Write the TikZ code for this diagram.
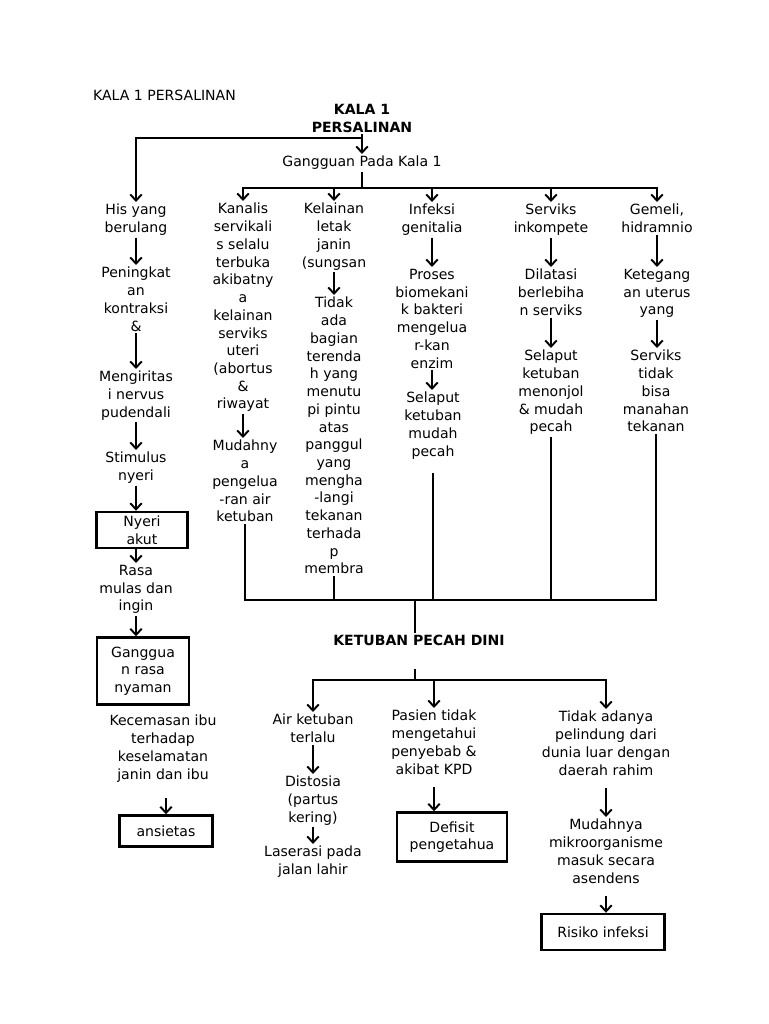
\documentclass[tikz,border=0pt]{standalone}
\usepackage{fontspec}
\setmainfont{DejaVu Sans}
\usetikzlibrary{arrows.meta,positioning,calc}

\begin{document}
\begin{tikzpicture}[
    x=0.02cm, y=-0.02cm,
    txt/.style={align=center, inner sep=1pt, font=\fontsize{8}{10.1}\selectfont},
    col/.style={txt, anchor=north},
    diag/.style={txt, draw, line width=1.4pt},
    arrow/.style={line width=0.8pt, -{Straight Barb[length=3.5pt, width=6.5pt, line width=1.1pt]}},
    link/.style={line width=0.8pt}
]

% Page
\useasboundingbox (0,0) rectangle (768,1024);
\fill[white] (0,0) rectangle (768,1024);

% Titles
\node[txt, anchor=west] (judul) at (91,95) {KALA 1 PERSALINAN};
\node[col] (kala) at (362,102) {\textbf{KALA 1}\\ \textbf{PERSALINAN}};
\node[col] (gangguan) at (362,154) {Gangguan Pada Kala 1};

% Column 1
\node[col] (his) at (136,202) {His yang\\ berulang};
\node[col] (ningkat) at (136,265) {Peningkat\\ an\\ kontraksi\\ \&};
\node[col] (iritasi) at (136,369) {Mengiritas\\ i nervus\\ pudendali};
\node[col] (stimulus) at (136,450) {Stimulus\\ nyeri};
\node[diag, minimum width=1.82cm, minimum height=0.72cm] (nyeri) at (142,530) {Nyeri\\ akut};
\node[col] (rasa) at (136,563) {Rasa\\ mulas dan\\ ingin};
\node[diag, minimum width=1.84cm, minimum height=1.34cm] (nyaman) at (143,671) {Ganggua\\ n rasa\\ nyaman};
\node[col] (cemas) at (163,713) {Kecemasan ibu\\ terhadap\\ keselamatan\\ janin dan ibu};
\node[diag, minimum width=1.86cm, minimum height=0.62cm] (ansietas) at (166,831) {ansietas};

% Column 2
\node[col] (kanalis) at (243,201) {Kanalis\\ servikali\\ s selalu\\ terbuka\\ akibatny\\ a\\ kelainan\\ serviks\\ uteri\\ (abortus\\ \&\\ riwayat};
\node[col] (mudah) at (245,438) {Mudahny\\ a\\ pengelua\\ -ran air\\ ketuban};

% Column 3
\node[col] (letak) at (334,201) {Kelainan\\ letak\\ janin\\ (sungsan};
\node[col] (tidak) at (334,295) {Tidak\\ ada\\ bagian\\ terenda\\ h yang\\ menutu\\ pi pintu\\ atas\\ panggul\\ yang\\ mengha\\ -langi\\ tekanan\\ terhada\\ p\\ membra};

% Column 4
\node[col] (infeksi) at (432,202) {Infeksi\\ genitalia};
\node[col] (proses) at (432,267) {Proses\\ biomekani\\ k bakteri\\ mengelua\\ r-kan\\ enzim};
\node[col] (selaputa) at (433,390) {Selaput\\ ketuban\\ mudah\\ pecah};

% Column 5
\node[col] (serviks) at (551,202) {Serviks\\ inkompete};
\node[col] (dilatasi) at (551,267) {Dilatasi\\ berlebiha\\ n serviks};
\node[col] (selaputb) at (551,348) {Selaput\\ ketuban\\ menonjol\\ \& mudah\\ pecah};

% Column 6
\node[col] (gemeli) at (657,202) {Gemeli,\\ hidramnio};
\node[col] (tegang) at (657,267) {Ketegang\\ an uterus\\ yang};
\node[col] (servikstidak) at (656,348) {Serviks\\ tidak\\ bisa\\ manahan\\ tekanan};

% KPD
\node[txt] (kpd) at (419,640) {\textbf{KETUBAN PECAH DINI}};

% Lower branches
\node[col] (air) at (313,712) {Air ketuban\\ terlalu};
\node[col] (distosia) at (313,774) {Distosia\\ (partus\\ kering)};
\node[col] (laserasi) at (313,844) {Laserasi pada\\ jalan lahir};
\node[col] (pasien) at (434,708) {Pasien tidak\\ mengetahui\\ penyebab \&\\ akibat KPD};
\node[diag, minimum width=2.2cm, minimum height=0.98cm] (defisit) at (452,837) {Defisit\\ pengetahua};
\node[col] (pelindung) at (606,709) {Tidak adanya\\ pelindung dari\\ dunia luar dengan\\ daerah rahim};
\node[col] (mikro) at (606,817) {Mudahnya\\ mikroorganisme\\ masuk secara\\ asendens};
\node[diag, minimum width=2.46cm, minimum height=0.72cm] (risiko) at (603,932) {Risiko infeksi};

% Top connections
\coordinate (k1) at (362,138);
\coordinate (g1) at (362,188);
\draw[link] (kala.south) -- (k1);
\draw[arrow] (k1) -- (gangguan.north);
\draw[arrow] (k1) -| (his.north);
\draw[link] (gangguan.south) -- (g1);
\draw[arrow] (g1) -| (kanalis.north);
\draw[arrow] (g1) -| (letak.north);
\draw[arrow] (g1) -| (infeksi.north);
\draw[arrow] (g1) -| (serviks.north);
\draw[arrow] (g1) -| (gemeli.north);

% Column chains
\draw[arrow] (his.south) -- (ningkat.north);
\draw[arrow] (ningkat.south) -- (iritasi.north);
\draw[arrow] (iritasi.south) -- (stimulus.north);
\draw[arrow] (stimulus.south) -- (stimulus.south |- nyeri.north);
\draw[arrow] (rasa.north |- nyeri.south) -- (rasa.north);
\draw[arrow] (rasa.south) -- (rasa.south |- nyaman.north);
\draw[arrow, shorten <=8pt] (ansietas.north |- cemas.south) -- (ansietas.north);
\draw[arrow] (kanalis.south) -- (kanalis.south |- mudah.north);
\draw[arrow] (letak.south) -- (tidak.north);
\draw[arrow] (infeksi.south) -- (proses.north);
\draw[arrow] (proses.south) -- (proses.south |- selaputa.north);
\draw[arrow] (serviks.south) -- (dilatasi.north);
\draw[arrow] (dilatasi.south) -- (selaputb.north);
\draw[arrow] (gemeli.south) -- (tegang.north);
\draw[arrow] (tegang.south) -- (tegang.south |- servikstidak.north);

% Joining into KPD
\coordinate (bus) at (415,600);
\coordinate (bus2) at (415,680);
\draw[link] (mudah.south) |- (bus);
\draw[link] (tidak.south) -- (tidak.south |- bus);
\draw[link, shorten <=7pt] (selaputa.south) -- (selaputa.south |- bus);
\draw[link] (selaputb.south) -- (selaputb.south |- bus);
\draw[link] (servikstidak.south) |- (bus);
\draw[link] (bus) -- (bus |- kpd.north);
\draw[link, shorten <=12pt] (bus |- kpd.south) -- (bus2);
\draw[arrow] (bus2) -| (air.north);
\draw[arrow] (bus2) -| (pasien.north);
\draw[arrow] (bus2) -| (pelindung.north);

% Lower chains
\draw[arrow] (air.south) -- (distosia.north);
\draw[arrow] (distosia.south) -- (laserasi.north);
\draw[arrow, shorten <=6pt] (pasien.south) -- (pasien.south |- defisit.north);
\draw[arrow, shorten <=6pt] (pelindung.south) -- (mikro.north);
\draw[arrow, shorten <=6pt] (mikro.south) -- (mikro.south |- risiko.north);

\end{tikzpicture}
\end{document}
